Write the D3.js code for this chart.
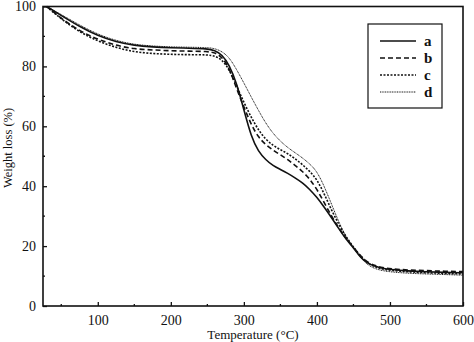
<!DOCTYPE html>
<html><head><meta charset="utf-8">
<script src="https://cdn.jsdelivr.net/npm/d3@7"></script>
<style>body{margin:0;background:#fff}svg{display:block}text{font-family:"Liberation Serif","DejaVu Serif",serif;fill:#111}</style>
</head><body>
<script>
const temps = [30,50,75,100,125,150,175,200,225,250,260,270,280,290,300,310,320,330,340,350,360,370,380,390,400,410,420,430,440,450,460,470,480,490,500,525,550,575,600];
const seriesA = [100,97,93.3,90.2,88.2,87,86.5,86.2,86.1,85.9,85.4,84,80.5,74.5,65.5,56.5,51.5,48.8,46.8,45.6,44.3,42.8,41.2,39,36.3,33,29.5,25.8,22.2,19.5,16,14.2,13.2,12.6,12.2,11.7,11.4,11.2,11.1];
const seriesB = [100,96,91.8,89,87,85.8,85.5,85.2,85.1,85,84.6,83.2,79.5,72.5,66.5,60.5,56.3,53.8,52,50.5,48.9,47,45,42.5,39,34.5,30,26,22.5,19.6,16.6,14.5,13.4,12.8,12.4,12,11.8,11.6,11.5];
const seriesC = [100,95.8,91.5,88.4,86.3,84.8,84.3,84,83.9,83.9,83.5,82.3,79,73.5,68,63,58.7,55.6,53.6,52.2,50.9,49.2,47.3,45,42.3,37.5,32,27.2,23,19.7,16.5,14.2,13,12.3,11.9,11.4,11.1,10.9,10.7];
const seriesD = [100,97.3,93.8,90.7,88.6,87.3,86.8,86.5,86.4,86.3,86,85,83,79,74.5,69.8,65.3,61,57.6,55,52.9,51.2,49.5,47.5,45,40,34,28,23,19.5,16,13.6,12.4,11.8,11.4,10.9,10.7,10.5,10.3];
const seriesNames = ["a","b","c","d"];
const xTicks = [100,200,300,400,500,600];
const yTicks = [0,20,40,60,80,100];

const W = 474, H = 342;
const m = {left:43, right:463, top:6.5, bottom:306};
const svg = d3.select("body").append("svg").attr("width",W).attr("height",H);
const x = d3.scaleLinear().domain([25,600]).range([m.left,m.right]);
const y = d3.scaleLinear().domain([0,100]).range([m.bottom,m.top]);

const styles = [
  {w:1.6, dash:null},
  {w:1.6, dash:"5,3"},
  {w:1.6, dash:"2,1.5"},
  {w:1, dash:"1,0.7"}
];
const all = [seriesA,seriesB,seriesC,seriesD];
const line = d3.line().x((d,i)=>x(temps[i])).y(d=>y(d)).curve(d3.curveBasis);
const g = svg.append("g");
all.forEach((s,k)=>{
  g.append("path").datum(s).attr("d",line).attr("fill","none").attr("stroke","#111")
   .attr("stroke-width",styles[k].w).attr("stroke-dasharray",styles[k].dash);
});

// frame
svg.append("rect").attr("x",m.left).attr("y",m.top).attr("width",m.right-m.left).attr("height",m.bottom-m.top)
  .attr("fill","none").attr("stroke","#111").attr("stroke-width",1.6);

// axes with inward ticks
const xAxis = d3.axisBottom(x).tickValues(xTicks).tickSize(-4).tickPadding(9).tickFormat(d3.format("d"));
const gx = svg.append("g").attr("transform",`translate(0,${m.bottom})`).call(xAxis);
gx.select(".domain").remove();
gx.selectAll("line").attr("stroke","#111").attr("stroke-width",1.3);
gx.selectAll("text").attr("font-size",14).style("font-family","Liberation Serif");
const xMinor = d3.range(50,600,100);
svg.append("g").selectAll("line").data(xMinor).join("line")
  .attr("x1",d=>x(d)).attr("x2",d=>x(d)).attr("y1",m.bottom).attr("y2",m.bottom-2).attr("stroke","#111").attr("stroke-width",1.3);

const yAxis = d3.axisLeft(y).tickValues(yTicks).tickSize(-4).tickPadding(7);
const gy = svg.append("g").attr("transform",`translate(${m.left},0)`).call(yAxis);
gy.select(".domain").remove();
gy.selectAll("line").attr("stroke","#111").attr("stroke-width",1.3);
gy.selectAll("text").attr("font-size",14).style("font-family","Liberation Serif");
const yMinor = [10,30,50,70,90];
svg.append("g").selectAll("line").data(yMinor).join("line")
  .attr("x1",m.left).attr("x2",m.left+2).attr("y1",d=>y(d)).attr("y2",d=>y(d)).attr("stroke","#111").attr("stroke-width",1.3);

// titles
svg.append("text").attr("x",253).attr("y",339).attr("text-anchor","middle").attr("font-size",13).text("Temperature (°C)");
svg.append("text").attr("transform","translate(12,148) rotate(-90)").attr("text-anchor","middle").attr("font-size",12.5).text("Weight loss (%)");

// legend
const lg = svg.append("g");
lg.append("rect").attr("x",368).attr("y",24).attr("width",74).attr("height",84).attr("fill","#fff").attr("stroke","#111").attr("stroke-width",1.2);
seriesNames.forEach((n,k)=>{
  const yy = 41 + k*17;
  lg.append("line").attr("x1",380).attr("x2",416).attr("y1",yy).attr("y2",yy).attr("stroke","#111")
    .attr("stroke-width",styles[k].w).attr("stroke-dasharray",styles[k].dash);
  lg.append("text").attr("x",424).attr("y",yy+5).attr("font-size",15).attr("font-weight","bold").text(n);
});
</script>
</body></html>
